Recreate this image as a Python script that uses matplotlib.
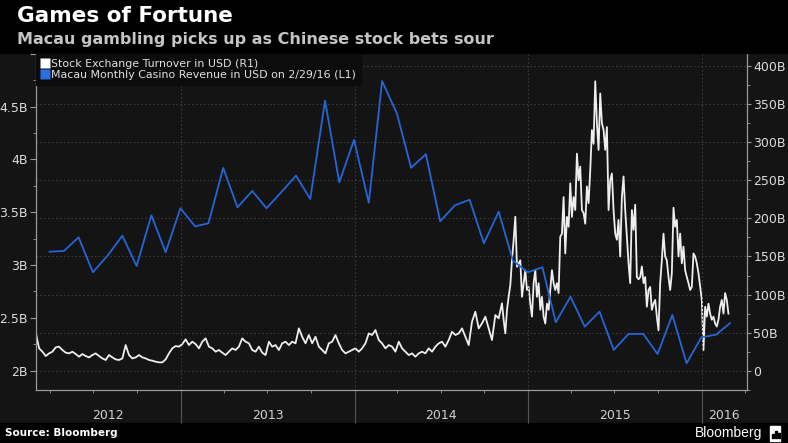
import pandas as pd
import matplotlib
matplotlib.use('Agg')
import matplotlib.pyplot as plt
import matplotlib.dates as mdates
from matplotlib.patches import Rectangle
from matplotlib.lines import Line2D
from matplotlib.ticker import MultipleLocator, FixedLocator

# Macau monthly casino revenue, USD bn, month ends Mar 2012 .. Feb 2016 (left axis)
casino_start = '2012-03-31'
casino_bn = [3.127, 3.133, 3.263, 2.932, 3.09, 3.278, 2.991, 3.472, 3.121, 3.538,
             3.367, 3.396, 3.920, 3.547, 3.702, 3.538, 3.69, 3.847, 3.626, 4.557, 3.784, 4.185,
             3.591, 4.743, 4.437, 3.922, 4.05, 3.415, 3.566, 3.619, 3.206, 3.506, 3.042, 2.932,
             2.979, 2.458, 2.701, 2.417, 2.559, 2.196, 2.348, 2.348, 2.158, 2.527, 2.070, 2.316,
             2.341, 2.449]

# stock exchange turnover, USD bn (right axis) - weekly reads up to Nov 2014
turnover_weekly_start = '2012-03-02'
turnover_weekly_bn = [
    49.9, 29.4, 25, 19.3, 22.8, 25, 30.7, 31.6, 27.2, 23.7,
    22.8, 25, 21.9, 18.4, 21.9, 19.3, 17.5, 20.6, 22.8, 19.3,
    16.2, 14.1, 20.6, 17.5, 14.9, 14.1, 16.2, 33.7, 20.6, 16.2,
    17.5, 20.6, 17.5, 16.2, 14.1, 13.2, 11.9, 11, 11, 14.9,
    22.8, 29.4, 32.4, 31.6, 35, 41.2, 33.7, 38.1, 35, 29.4,
    38.1, 42.5, 31.6, 29.4, 25, 27.2, 23.7, 20.6, 25, 29.4,
    27.2, 31.6, 42.5, 38.1, 36, 27.2, 25, 31.6, 23.7, 20.6,
    38.1, 31.6, 33.7, 27.2, 36, 38.1, 33.7, 38.1, 36, 55.6,
    44.6, 36, 46.9, 36, 44.6, 31.6, 27.2, 22.8, 36, 38.1,
    46.9, 36, 27.2, 22.8, 25, 27.2, 29.4, 25, 29.4, 36,
    49, 46.9, 53.4, 40.3, 35.9, 29.4, 33.7, 31.6, 25, 38.1,
    29.4, 25, 20.6, 22.8, 18.4, 22.8, 25, 22.8, 29.4, 25,
    31.6, 35.9, 38.1, 31.6, 40.3, 51.2, 46.9, 49, 55.6, 44.7,
    33.7, 64.4, 77.5, 55.6, 62.2, 71, 55.6, 40.3, 73.1, 68.8]

# twice-weekly reads from Nov 2014 on
turnover_fast_start = '2014-11-07'
turnover_fast_bn = [
    88.5, 66.6, 49, 79.7, 97.2, 112.5, 145.3, 171.6, 202.2, 136.6,
    141, 145, 97, 115, 132, 106, 110, 88, 71, 115,
    132, 97, 115, 80, 97, 71, 62, 88, 80, 106,
    132, 115, 106, 115, 102, 176, 180, 228, 154, 202,
    189, 246, 202, 228, 211, 285, 250, 268, 211, 207,
    193, 242, 220, 263, 316, 298, 380, 325, 290, 364,
    325, 316, 290, 320, 211, 250, 259, 211, 180, 172,
    198, 150, 228, 255, 211, 176, 141, 115, 211, 185,
    218, 123, 120, 123, 137, 115, 123, 84, 106, 110,
    80, 88, 93, 71, 53, 115, 145, 180, 150, 145,
    123, 106, 128, 214, 189, 198, 150, 180, 141, 163,
    132, 123, 115, 106, 110, 154, 150, 141, 128, 110,
    93, 27, 84, 71, 88, 75, 67, 71, 62, 58,
    67, 84, 93, 75, 102, 93, 75]

left_ticks = [2.0, 2.5, 3.0, 3.5, 4.0, 4.5, 5.0]
left_labels = ['2B', '2.5B', '3B', '3.5B', '4B', '4.5B', '']
right_ticks = [0, 50, 100, 150, 200, 250, 300, 350, 400]
right_labels = ['0', '50B', '100B', '150B', '200B', '250B', '300B', '350B', '400B']
years = [2012, 2013, 2014, 2015, 2016]

casino_dates = pd.date_range(casino_start, periods=len(casino_bn), freq='ME')
turn_dates = pd.date_range(turnover_weekly_start, periods=len(turnover_weekly_bn), freq='7D').append(
    pd.date_range(turnover_fast_start, periods=len(turnover_fast_bn), freq='84h'))
turn_vals = turnover_weekly_bn + turnover_fast_bn

W, H = 788, 443
BG = '#141414'
SPINE = '#9a9a9a'
GRID = '#3a3a3a'

fig = plt.figure(figsize=(W / 100, H / 100), dpi=100, facecolor=BG)
fig.patches.append(Rectangle((0, 1 - 53 / H), 1, 53 / H, transform=fig.transFigure,
                             color='black', zorder=0))
fig.patches.append(Rectangle((0, 0), 1, 20 / H, transform=fig.transFigure,
                             color='black', zorder=0))

ax = fig.add_axes([36 / W, 1 - 390 / H, (747 - 36) / W, (390 - 53.9) / H])
ax2 = ax.twinx()
ax.set_zorder(ax2.get_zorder() + 1)
ax.patch.set_visible(False)
ax2.patch.set_facecolor(BG)

ax2.plot(turn_dates, turn_vals, color='#eeeeee', lw=1.3)
ax.plot(casino_dates, casino_bn, color='#2466d6', lw=1.3)

ax.set_xlim(pd.Timestamp('2012-03-02 12:00'), pd.Timestamp('2016-04-05'))
ax.set_ylim(1.817, 5.0)
ax2.set_ylim(-25.3, 416)

# spines
for a in (ax, ax2):
    for s in a.spines.values():
        s.set_color(SPINE)
        s.set_linewidth(0.9)
    a.spines['top'].set_visible(False)
ax.spines['right'].set_visible(False)
ax2.spines['left'].set_visible(False)
ax2.spines['bottom'].set_visible(False)

# left axis
ax.yaxis.set_major_locator(FixedLocator(left_ticks))
ax.set_yticklabels(left_labels)
ax.yaxis.set_minor_locator(MultipleLocator(0.25))
ax.tick_params(axis='y', which='major', colors=SPINE, labelcolor='#dcdcdc',
               labelsize=9, length=4, pad=2)
ax.tick_params(axis='y', which='minor', colors=SPINE, length=2.5)

# right axis
ax2.yaxis.set_major_locator(FixedLocator(right_ticks))
ax2.set_yticklabels(right_labels)
ax2.yaxis.set_minor_locator(MultipleLocator(25))
ax2.tick_params(axis='y', which='major', colors=SPINE, labelcolor='#dcdcdc',
                labelsize=9, length=3, pad=1.5)
ax2.tick_params(axis='y', which='minor', colors=SPINE, length=2)
ax2.yaxis.grid(True, color=GRID, linestyle=(0, (1.5, 2)), lw=0.8)

# x axis: year separators + quarter ticks
ax.xaxis.set_major_locator(mdates.YearLocator())
ax.xaxis.set_minor_locator(mdates.MonthLocator(bymonth=[4, 7, 10]))
ax.tick_params(axis='x', which='major', length=23.8, width=0.8, color='#555555',
               labelbottom=False)
ax.tick_params(axis='x', which='minor', length=2.5, color=SPINE)
ax.xaxis.grid(True, which='major', color=GRID, linestyle=(0, (1.5, 2)), lw=0.8)

x0, x1 = ax.get_xlim()
for yr in years:
    a = max(mdates.date2num(pd.Timestamp(f'{yr}-01-01')), x0)
    b = min(mdates.date2num(pd.Timestamp(f'{yr + 1}-01-01')), x1)
    ax.text((a + b) / 2, -0.075, str(yr), transform=ax.get_xaxis_transform(),
            ha='center', va='center', fontsize=9, color='#d0d0d0')

# legend
handles = [Line2D([], [], marker='s', ls='none', markersize=6.5, markerfacecolor='white',
                  markeredgecolor='none'),
           Line2D([], [], marker='s', ls='none', markersize=6.5, markerfacecolor='#2a6fe2',
                  markeredgecolor='none')]
leg = ax.legend(handles, ['Stock Exchange Turnover in USD (R1)',
                          'Macau Monthly Casino Revenue in USD on 2/29/16 (L1)'],
                loc='upper left', bbox_to_anchor=(0, 1), borderaxespad=0, fontsize=7.9,
                labelcolor='#e0e0e0', handletextpad=0.15, handlelength=0.8,
                borderpad=0.45, labelspacing=0.12, fancybox=False, framealpha=1,
                facecolor='#0c0c0c', edgecolor='#0c0c0c')

# titles and footer
fig.text(17 / W, 1 - 16 / H, 'Games of Fortune', fontsize=15.5, fontweight='bold',
         color='white', va='center')
fig.text(17 / W, 1 - 39.5 / H, 'Macau gambling picks up as Chinese stock bets sour',
         fontsize=11.5, fontweight='bold', color='#c4c4c4', va='center')
fig.text(5 / W, 1 - 433 / H, 'Source: Bloomberg', fontsize=7.5, fontweight='bold',
         color='white', va='center')
fig.text(762 / W, 1 - 433 / H, 'Bloomberg', fontsize=10, color='white', va='center',
         ha='right', family='Liberation Sans')
fig.patches.append(Rectangle((770 / W, 1 - 441 / H), 10 / W, 15 / H, transform=fig.transFigure,
                             color='white', zorder=3))
for bx, bh in [(772, 4), (775, 7), (778, 5)]:
    fig.patches.append(Rectangle((bx / W, 1 - 438 / H), 1.5 / W, bh / H,
                                 transform=fig.transFigure, color='black', zorder=4))

fig.savefig('out.png', dpi=100, facecolor=fig.get_facecolor())
